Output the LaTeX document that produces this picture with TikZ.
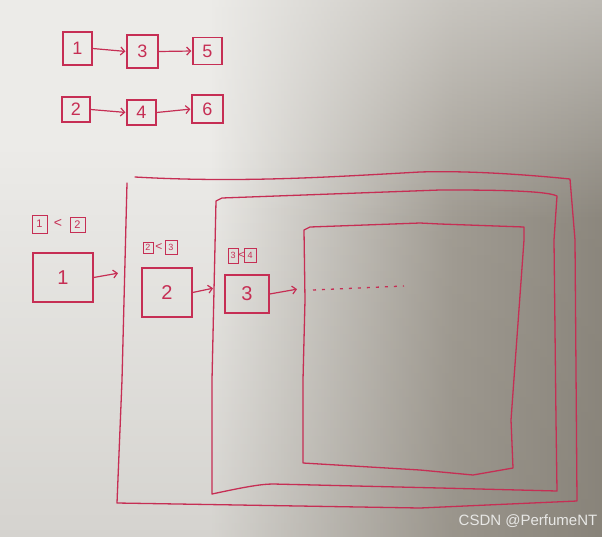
\documentclass[tikz,border=0pt]{standalone}
\usepackage{fontspec}
\setmainfont{Liberation Sans}
\usetikzlibrary{arrows.meta,fadings}
\definecolor{ink}{RGB}{198,46,84}
\definecolor{paper}{RGB}{236,235,232}
\definecolor{shadowc}{RGB}{162,157,148}
\definecolor{deepc}{RGB}{120,115,105}
\definecolor{mark}{RGB}{232,232,230}
\pgfdeclarehorizontalshading{photoshade}{100bp}{color(0bp)=(paper); color(43bp)=(paper); color(53bp)=(shadowc); color(65bp)=(deepc); color(100bp)=(deepc)}
\tikzset{
  box/.style={draw=ink, line width=1.2pt, inner sep=0pt, text=ink, font=\fontsize{18}{18}\selectfont},
  bigbox/.style={box, font=\fontsize{20}{20}\selectfont},
  sbox/.style={draw=ink, line width=1pt, inner sep=0pt, text=ink, font=\fontsize{9}{9}\selectfont},
  lt/.style={inner sep=0pt, text=ink, font=\fontsize{14}{14}\selectfont},
  arr/.style={draw=ink, line width=1.2pt, -{Straight Barb[length=4pt,width=8pt]}, shorten >=1pt},
  frame/.style={draw=ink, line width=1.3pt, line join=round, line cap=round},
  dots/.style={draw=ink, line width=1.3pt, dash pattern=on 3pt off 6pt}
}
\begin{document}
\begin{tikzpicture}[x=1pt,y=-1pt]
\useasboundingbox (0,0) rectangle (602,536);
% paper background with the photo's shadow
\begin{scope}
\clip (0,0) rectangle (602,536);
\fill[paper] (0,0) rectangle (602,536);
\begin{scope}[rotate around={-14:(380,268)}]
\shade[shading=photoshade] (-120,-232) rectangle (880,768);
\end{scope}
\fill[deepc, path fading=north, opacity=0.25] (0,150) rectangle (602,650);
\fill[paper, path fading=south, opacity=0.7] (0,-80) rectangle (602,220);
\end{scope}

% top lists
\node[box, minimum width=29pt, minimum height=33pt] (a1) at (77.5,48.5) {1};
\node[box, minimum width=31pt, minimum height=33pt] (a3) at (142.5,51.5) {3};
\node[box, minimum width=29pt, minimum height=27pt] (a5) at (207.5,51) {5};
\node[box, minimum width=28pt, minimum height=25pt] (b2) at (76,109.5) {2};
\node[box, minimum width=29pt, minimum height=25pt] (b4) at (141.5,112.5) {4};
\node[box, minimum width=31pt, minimum height=28pt] (b6) at (207.5,109) {6};
\draw[arr] (a1.east) -- (a3.west);
\draw[arr] (a3.east) -- (a5.west);
\draw[arr] (b2.east) -- (b4.west);
\draw[arr] (b4.east) -- (b6.west);

% nested frames
\draw[frame] (127,183) -- (122,380) -- (117,503) -- (420,508) -- (577,501) -- (575,240) -- (570,179)
  .. controls (500,172) and (450,171) .. (420,172) .. controls (330,177) and (240,183) .. (135,177);
\draw[frame] (216,201) -- (212,380) -- (212,494) .. controls (240,488) and (260,484) .. (273,484)
  -- (440,488) -- (557,491) -- (556,420) -- (554,240) -- (557,196)
  .. controls (545,190) and (480,190) .. (440,190) -- (222,198) -- cycle;
\draw[frame] (304,230) -- (305,300) -- (303,380) -- (303,463) -- (420,470) -- (473,475)
  -- (513,468) -- (511,420) -- (524,240) -- (524,227) -- (440,224) -- (420,223) -- (310,227) -- cycle;

% recursion boxes
\node[bigbox, minimum width=60pt, minimum height=49pt] (r1) at (63,277.5) {1};
\node[bigbox, minimum width=50pt, minimum height=49pt] (r2) at (167,292.5) {2};
\node[bigbox, minimum width=44pt, minimum height=38pt] (r3) at (247,294) {3};
\coordinate (e1) at (119,273);
\coordinate (e2) at (214,288);
\coordinate (e3) at (298,289);
\draw[arr] (r1.east) -- (e1);
\draw[arr] (r2.east) -- (e2);
\draw[arr] (r3.east) -- (e3);
\coordinate (d1) at (313,290);
\coordinate (d2) at (404,286);
\draw[dots] (d1) -- (d2);

% comparison labels
\node[sbox, minimum width=15pt, minimum height=18pt, font=\fontsize{11}{11}\selectfont] (l1a) at (39.5,224) {1};
\node[lt] (l1c) at (58,223) {<};
\node[sbox, minimum width=15pt, minimum height=15pt, font=\fontsize{11}{11}\selectfont] (l1b) at (77.5,224.5) {2};
\node[sbox, minimum width=10pt, minimum height=11pt] (l2a) at (148,247.5) {2};
\node[lt, font=\fontsize{12}{12}\selectfont] (l2c) at (159,247) {<};
\node[sbox, minimum width=12pt, minimum height=14pt] (l2b) at (171,247.5) {3};
\node[sbox, minimum width=10pt, minimum height=15pt] (l3a) at (233,255.5) {3};
\node[lt, font=\fontsize{11}{11}\selectfont] (l3c) at (241.5,255.5) {<};
\node[sbox, minimum width=12pt, minimum height=14pt] (l3b) at (250,255) {4};

% watermark
\node[text=mark, font=\fontsize{15}{15}\selectfont, inner sep=0pt] (wm) at (528,521) {CSDN @PerfumeNT};
\end{tikzpicture}
\end{document}
